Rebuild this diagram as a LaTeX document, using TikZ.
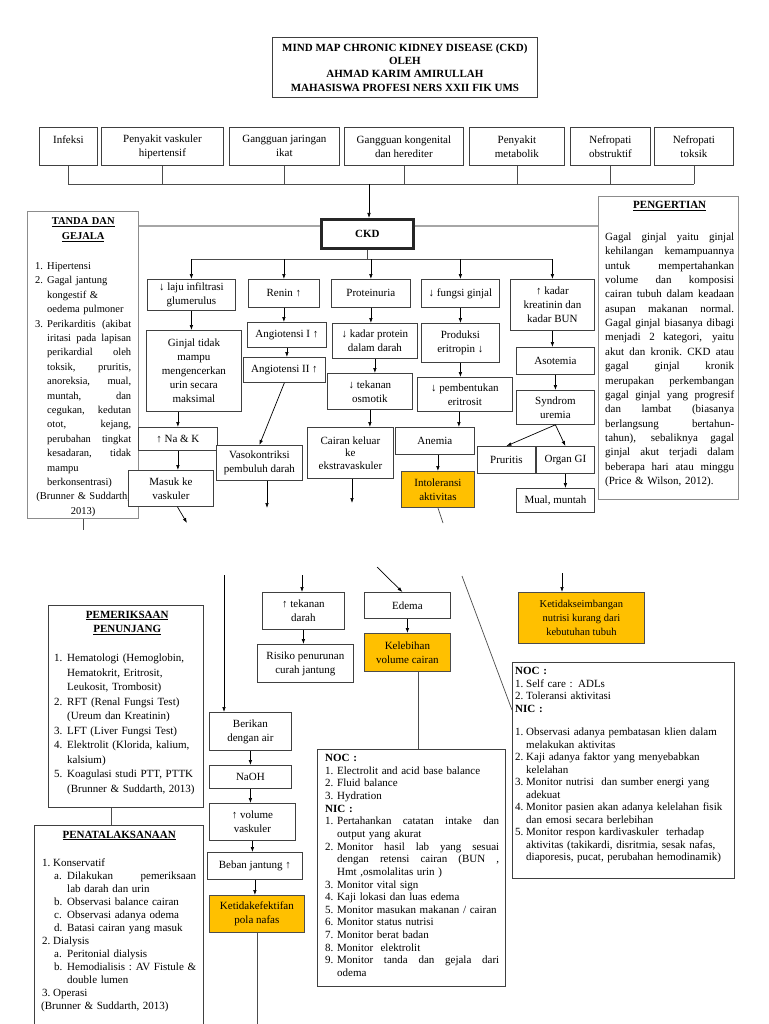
\documentclass[tikz,border=0pt]{standalone}
\usepackage{fontspec}
\setmainfont{Liberation Serif}
\usetikzlibrary{arrows.meta}
\definecolor{gold}{HTML}{FFC000}
\newcommand\bx[7][]{\node[box,anchor=north west,minimum width={(#5-#3)*1pt},minimum height={(#6-#4)*1pt},#1] (#2) at (#3,#4) {#7};}
\newcommand\Nm[2]{\makebox[#1][l]{#2}}
\newcommand\Js[2]{\makebox[#1][s]{\spaceskip=0.25em plus 1fil\xspaceskip=0.25em plus 1fil\relax #2}}
\newcommand\Ct[1]{\makebox[\linewidth][c]{\textbf{\underline{#1}}}}
\begin{document}
\begin{tikzpicture}[x=1pt,y=-1pt,
 box/.style={draw=black!75,line width=0.8pt,fill=white,align=center,inner sep=1pt,font=\fontsize{11}{14}\selectfont},
 gbox/.style={box,fill=gold,draw=black!70},
 bigbox/.style={box,draw=black!45,line width=1.1pt},
 txt/.style={anchor=base west,inner sep=0pt,align=left},
 arr/.style={-{Latex[length=5pt,width=3.6pt]},line width=0.7pt,draw=black},
 ln/.style={line width=0.7pt,draw=black!70},
 side/.style={line width=1.6pt,draw=black!35}]
\fill[white] (0,0) rectangle (768,1024);
\useasboundingbox (0,0) rectangle (768,1024);

% title
\bx[font=\bfseries\fontsize{11}{13.3}\selectfont]{title}{272}{37}{537}{97}{MIND MAP CHRONIC KIDNEY DISEASE (CKD)\\OLEH\\AHMAD KARIM AMIRULLAH\\MAHASISWA PROFESI NERS XXII FIK UMS}

% causes
\bx{c1}{39}{127}{97}{165}{Infeksi\\\phantom{x}}
\bx{c2}{101}{127}{223}{165}{Penyakit vaskuler\\hipertensif}
\bx{c3}{229}{127}{339}{165}{Gangguan jaringan\\ikat}
\bx{c4}{344}{127}{463}{165}{Gangguan kongenital\\dan herediter}
\bx{c5}{469}{127}{564}{165}{Penyakit\\metabolik}
\bx{c6}{570}{127}{650}{165}{Nefropati\\obstruktif}
\bx{c7}{654}{127}{733}{165}{Nefropati\\toksik}

% side boxes
\bx[bigbox]{tanda}{27}{211}{138}{518}{}
\node[txt,text width=96pt,font=\fontsize{10.5}{14.4}\selectfont] (tandaT) at (35,225) {%
\Ct{TANDA DAN}\\
\Ct{GEJALA}\\[15.7pt]
\Nm{12pt}{1.}Hipertensi\\
\Nm{12pt}{2.}Gagal jantung\\
\hspace*{12pt}kongestif \&\\
\hspace*{12pt}oedema pulmoner\\
\Nm{12pt}{3.}\Js{84pt}{Perikarditis (akibat}\\
\hspace*{12pt}\Js{84pt}{iritasi pada lapisan}\\
\hspace*{12pt}\Js{84pt}{perikardial oleh}\\
\hspace*{12pt}\Js{84pt}{toksik, pruritis,}\\
\hspace*{12pt}\Js{84pt}{anoreksia, mual,}\\
\hspace*{12pt}\Js{84pt}{muntah, dan}\\
\hspace*{12pt}\Js{84pt}{cegukan, kedutan}\\
\hspace*{12pt}\Js{84pt}{otot, kejang,}\\
\hspace*{12pt}\Js{84pt}{perubahan tingkat}\\
\hspace*{12pt}\Js{84pt}{kesadaran, tidak}\\
\hspace*{12pt}mampu\\
\hspace*{12pt}berkonsentrasi)\\
\makebox[\linewidth][c]{(Brunner \& Suddarth,}\\
\makebox[\linewidth][c]{2013)}};

\bx[bigbox]{peng}{598}{196}{738}{499}{}
\node[txt,text width=129pt,font=\fontsize{11}{14.35}\selectfont] (pengT) at (605,209) {%
\Ct{PENGERTIAN}\\[17.15pt]
\Js{\linewidth}{Gagal ginjal yaitu ginjal}\\
\Js{\linewidth}{kehilangan kemampuannya}\\
\Js{\linewidth}{untuk mempertahankan}\\
\Js{\linewidth}{volume dan komposisi}\\
\Js{\linewidth}{cairan tubuh dalam keadaan}\\
\Js{\linewidth}{asupan makanan normal.}\\
\Js{\linewidth}{Gagal ginjal biasanya dibagi}\\
\Js{\linewidth}{menjadi 2 kategori, yaitu}\\
\Js{\linewidth}{akut dan kronik. CKD atau}\\
\Js{\linewidth}{gagal ginjal kronik}\\
\Js{\linewidth}{merupakan perkembangan}\\
\Js{\linewidth}{gagal ginjal yang progresif}\\
\Js{\linewidth}{dan lambat (biasanya}\\
\Js{\linewidth}{berlangsung bertahun-}\\
\Js{\linewidth}{tahun), sebaliknya gagal}\\
\Js{\linewidth}{ginjal akut terjadi dalam}\\
\Js{\linewidth}{beberapa hari atau minggu}\\
(Price \& Wilson, 2012).};

% CKD
\bx[line width=2.6pt,draw=black!85,font=\bfseries\fontsize{11}{14}\selectfont]{ckd}{320}{218}{412}{247}{CKD}

% level 2
\bx{laju}{147}{279}{235}{310}{↓ laju infiltrasi\\glumerulus}
\bx{renin}{248}{279}{319}{307}{Renin ↑}
\bx{prot}{331}{279}{410}{307}{Proteinuria}
\bx{fungsi}{421}{279}{499}{307}{↓ fungsi ginjal}
\bx{kadar}{510}{279}{594}{330}{↑ kadar\\kreatinin dan\\kadar BUN}

\bx{ginjal}{146}{330}{241}{411}{Ginjal tidak\\mampu\\mengencerkan\\urin secara\\maksimal}
\bx{ang1}{247}{322}{326}{347}{Angiotensi I ↑}
\bx{ang2}{243}{357}{325}{382}{Angiotensi II ↑}
\bx{kprot}{332}{323}{417}{358}{↓ kadar protein\\dalam darah}
\bx{osmo}{327}{373}{412}{409}{↓ tekanan\\osmotik}
\bx[font=\fontsize{11}{12.5}\selectfont]{cairan}{307}{427}{393}{478}{Cairan keluar\\ke\\ekstravaskuler}
\bx{prod}{421}{323}{499}{362}{Produksi\\eritropin ↓}
\bx{pemb}{417}{377}{512}{411}{↓ pembentukan\\eritrosit}
\bx{anemia}{395}{427}{474}{454}{Anemia}
\bx[gbox]{intol}{401}{471}{474}{507}{Intoleransi\\aktivitas}
\bx{aso}{516}{347}{594}{374}{Asotemia}
\bx{syn}{516}{390}{594}{424}{Syndrom\\uremia}
\bx{prur}{477}{446}{535}{473}{Pruritis}
\bx{organ}{536}{446}{594}{473}{Organ GI}
\bx{mual}{516}{488}{594}{512}{Mual, muntah}
\bx{nak}{138}{427}{217}{450}{↑ Na \& K}
\bx{vaso}{216}{445}{302}{480}{Vasokontriksi\\pembuluh darah}
\bx{masuk}{128}{470}{213}{506}{Masuk ke\\vaskuler}

% lower part
\bx{tek}{262}{592}{344}{629}{↑ tekanan\\darah}
\bx{risiko}{257}{644}{353}{682}{Risiko penurunan\\curah jantung}
\bx{edema}{364}{592}{450}{618}{Edema}
\bx[gbox]{keleb}{364}{633}{450}{671}{Kelebihan\\volume cairan}
\bx[gbox,font=\fontsize{10.5}{14}\selectfont]{ketid}{518}{592}{644}{643}{Ketidakseimbangan\\nutrisi kurang dari\\kebutuhan tubuh}
\bx{berikan}{209}{712}{291}{750}{Berikan\\dengan air}
\bx{naoh}{209}{765}{291}{788}{NaOH}
\bx{vol}{209}{803}{295}{840}{↑ volume\\vaskuler}
\bx{beban}{207}{852}{302}{879}{Beban jantung ↑}
\bx[gbox]{ketef}{209}{895}{304}{932}{Ketidakefektifan\\pola nafas}

\bx{pem}{48}{605}{203}{807}{}
\node[txt,text width=146pt,font=\fontsize{11}{14.5}\selectfont] (pemT) at (54,618) {%
\Ct{PEMERIKSAAN}\\
\Ct{PENUNJANG}\\[14.5pt]
\Nm{13pt}{1.}Hematologi (Hemoglobin,\\
\hspace*{13pt}Hematokrit, Eritrosit,\\
\hspace*{13pt}Leukosit, Trombosit)\\
\Nm{13pt}{2.}RFT (Renal Fungsi Test)\\
\hspace*{13pt}(Ureum dan Kreatinin)\\
\Nm{13pt}{3.}LFT (Liver Fungsi Test)\\
\Nm{13pt}{4.}Elektrolit (Klorida, kalium,\\
\hspace*{13pt}kalsium)\\
\Nm{13pt}{5.}Koagulasi studi PTT, PTTK\\
\hspace*{13pt}(Brunner \& Suddarth, 2013)};

\bx{pena}{34}{825}{203}{1040}{}
\node[txt,text width=154pt,font=\fontsize{11}{13.04}\selectfont] (penaT) at (42,838) {%
\Ct{PENATALAKSANAAN}\\[15.5pt]
\Nm{11pt}{1.}Konservatif\\
\hspace*{12pt}\Nm{13pt}{a.}\Js{129pt}{Dilakukan pemeriksaan}\\
\hspace*{25pt}lab darah dan urin\\
\hspace*{12pt}\Nm{13pt}{b.}Observasi balance cairan\\
\hspace*{12pt}\Nm{13pt}{c.}Observasi adanya odema\\
\hspace*{12pt}\Nm{13pt}{d.}Batasi cairan yang masuk\\
\Nm{11pt}{2.}Dialysis\\
\hspace*{12pt}\Nm{13pt}{a.}Peritonial dialysis\\
\hspace*{12pt}\Nm{13pt}{b.}\Js{129pt}{Hemodialisis : AV Fistule \&}\\
\hspace*{25pt}double lumen\\
\Nm{11pt}{3.}Operasi\\
\hspace*{-1pt}(Brunner \& Suddarth, 2013)};

\bx{nocM}{317}{749}{505}{986}{}
\node[txt,text width=174pt,font=\fontsize{11}{12.65}\selectfont] (nocMT) at (325,761.5) {%
\textbf{NOC :}\\
\Nm{12pt}{1.}Electrolit and acid base balance\\
\Nm{12pt}{2.}Fluid balance\\
\Nm{12pt}{3.}Hydration\\
\textbf{NIC :}\\
\Nm{12pt}{1.}\Js{162pt}{Pertahankan catatan intake dan}\\
\hspace*{12pt}output yang akurat\\
\Nm{12pt}{2.}\Js{162pt}{Monitor hasil lab yang sesuai}\\
\hspace*{12pt}\Js{162pt}{dengan retensi cairan (BUN ,}\\
\hspace*{12pt}Hmt ,osmolalitas urin )\\
\Nm{12pt}{3.}Monitor vital sign\\
\Nm{12pt}{4.}Kaji lokasi dan luas edema\\
\Nm{12pt}{5.}Monitor masukan makanan / cairan\\
\Nm{12pt}{6.}Monitor status nutrisi\\
\Nm{12pt}{7.}Monitor berat badan\\
\Nm{12pt}{8.}Monitor\ \ elektrolit\\
\Nm{12pt}{9.}\Js{162pt}{Monitor tanda dan gejala dari}\\
\hspace*{12pt}odema};

\bx{nocR}{512}{662}{734}{878}{}
\node[txt,text width=216pt,font=\fontsize{11}{12.5}\selectfont] (nocRT) at (515,674.5) {%
\textbf{NOC :}\\
\Nm{11pt}{1.}Self care : ADLs\\
\Nm{11pt}{2.}Toleransi aktivitasi\\
\textbf{NIC :}\\[11pt]
\Nm{11pt}{1.}Observasi adanya pembatasan klien dalam\\
\hspace*{11pt}melakukan aktivitas\\
\Nm{11pt}{2.}Kaji adanya faktor yang menyebabkan\\
\hspace*{11pt}kelelahan\\
\Nm{11pt}{3.}Monitor nutrisi\ \ dan sumber energi yang\\
\hspace*{11pt}adekuat\\
\Nm{11pt}{4.}Monitor pasien akan adanya kelelahan fisik\\
\hspace*{11pt}dan emosi secara berlebihan\\
\Nm{11pt}{5.}Monitor respon kardivaskuler\ \ terhadap\\
\hspace*{11pt}aktivitas (takikardi, disritmia, sesak nafas,\\
\hspace*{11pt}diaporesis, pucat, perubahan hemodinamik)};

% ---------- connectors ----------
\coordinate (busY) at (0,184);
\coordinate (busC) at (369,184);
\draw[ln] (c1.south |- busY) -- (c7.south |- busY);
\foreach \n in {c1,c2,c3,c4,c5,c6,c7} \draw[ln] (\n.south) -- (\n.south |- busY);
\draw[arr] (busC) -- (busC |- ckd.north);

\coordinate (sideY) at (0,226);
\draw[side] (ckd.west |- sideY) -- (tanda.east |- sideY);
\draw[side] (ckd.east |- sideY) -- (peng.west |- sideY);

\coordinate (b2) at (0,259);
\draw[ln] (ckd.south) -- (ckd.south |- b2);
\draw[ln] (laju.north |- b2) -- (kadar.north |- b2);
\foreach \n in {laju,renin,prot,fungsi,kadar} \draw[arr] (\n.north |- b2) -- (\n.north);

\draw[arr] (laju.south) -- (laju.south |- ginjal.north);
\draw[arr] (ginjal.south -| nak.north) -- (nak.north);
\draw[arr] (nak.south) -- (nak.south |- masuk.north);
\coordinate (s1) at (187,523);
\draw[arr] ([xshift=6.5pt]masuk.south) -- (s1);

\draw[arr] (renin.south) -- (renin.south |- ang1.north);
\draw[arr] (ang1.south) -- (ang1.south |- ang2.north);
\draw[arr] (ang2.south) -- (vaso.north);
\coordinate (s2) at (267,508);
\draw[arr] (vaso.south -| s2) -- (s2);

\draw[arr] (prot.south) -- (prot.south |- kprot.north);
\draw[arr] (kprot.south) -- (kprot.south |- osmo.north);
\draw[arr] (osmo.south) -- (osmo.south |- cairan.north);
\coordinate (s3) at (352,503);
\draw[arr] (cairan.south -| s3) -- (s3);

\draw[arr] (fungsi.south) -- (fungsi.south |- prod.north);
\draw[arr] (prod.south) -- (prod.south |- pemb.north);
\draw[arr] ([xshift=-6pt]pemb.south) -- ([xshift=-6pt]pemb.south |- anemia.north);
\draw[arr] (anemia.south -| intol.north) -- (intol.north);
\coordinate (s4) at (443,523);
\draw[ln] (intol.south) -- (s4);

\draw[arr] (kadar.south) -- (kadar.south |- aso.north);
\draw[arr] (aso.south) -- (aso.south |- syn.north);
\draw[arr] (syn.south) -- (prur.north);
\draw[arr] (syn.south) -- (organ.north);
\draw[arr] (organ.south) -- (organ.south |- mual.north);

\coordinate (s0) at (0,530);
\draw[ln] (tanda.south) -- (tanda.south |- s0);

\coordinate (t1) at (224,575);
\draw[arr] (t1) -- (t1 |- berikan.north);
\coordinate (t2) at (302,575);
\draw[arr] (t2) -- (t2 |- tek.north);
\draw[arr] (tek.south) -- (tek.south |- risiko.north);
\coordinate (t3) at (377,567);
\draw[arr] (t3) -- ([xshift=-5pt]edema.north);
\draw[arr] (edema.south) -- (edema.south |- keleb.north);
\draw[ln] ([xshift=11pt]keleb.south) -- ([xshift=11pt]keleb.south |- nocM.north);
\coordinate (t4) at (462,576);
\coordinate (t4y) at (0,710);
\draw[ln] (t4) -- (nocR.west |- t4y);
\coordinate (t5) at (562,573);
\draw[arr] (t5) -- (t5 |- ketid.north);

\draw[arr] (berikan.south) -- (berikan.south |- naoh.north);
\draw[arr] (naoh.south) -- (naoh.south |- vol.north);
\draw[arr] (vol.south) -- (vol.south |- beban.north);
\draw[arr] (beban.south) -- (beban.south |- ketef.north);
\coordinate (bot) at (0,1024);
\draw[ln] (ketef.south) -- (ketef.south |- bot);
\coordinate (cx) at (111,0);
\draw[ln] (pem.south -| cx) -- (cx |- pena.north);
\end{tikzpicture}
\end{document}
